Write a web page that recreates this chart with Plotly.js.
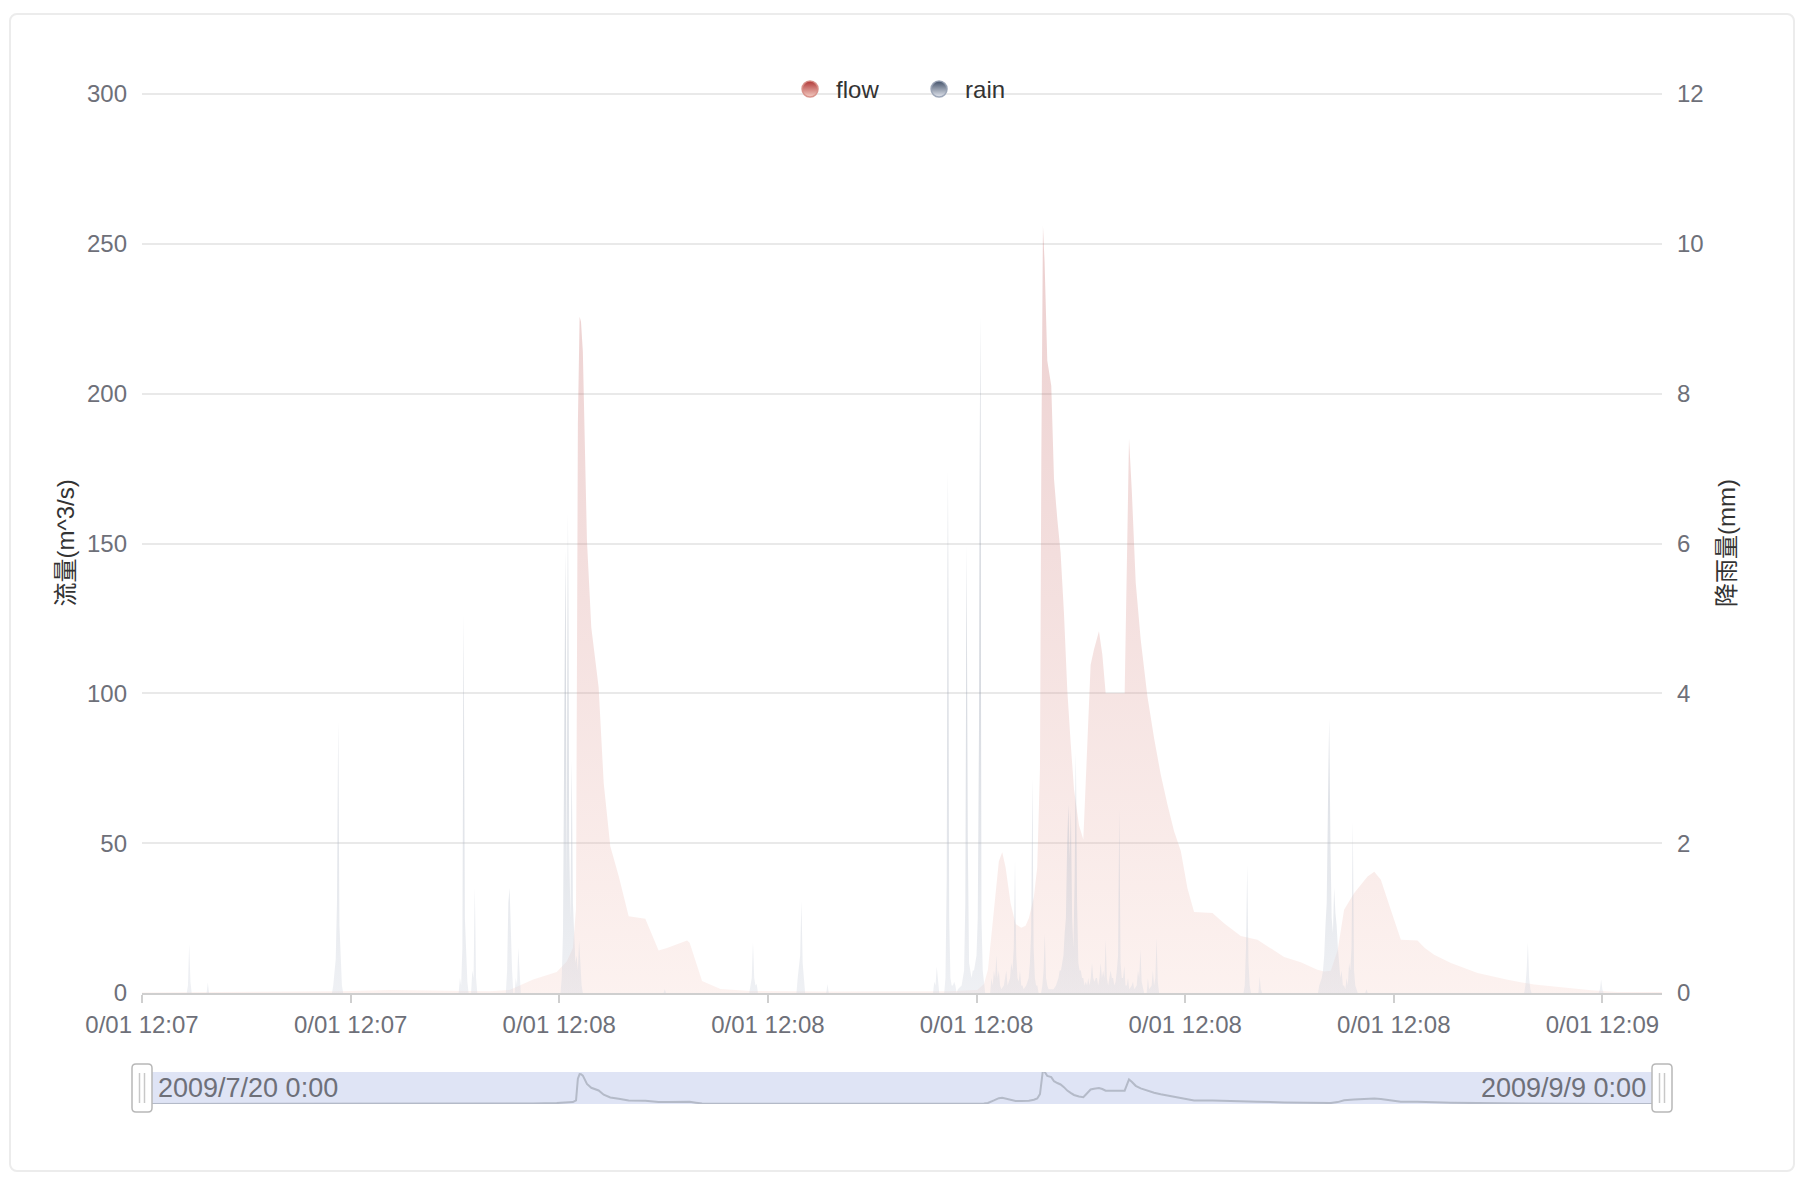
<!DOCTYPE html>
<html><head><meta charset="utf-8">
<script src="https://cdn.plot.ly/plotly-3.0.1.min.js"></script>
<style>
html,body{margin:0;padding:0;background:#fff;}
#frame{position:absolute;left:9px;top:13px;width:1786px;height:1159px;border:2px solid #ececec;border-radius:8px;box-sizing:border-box;}
#chart{position:absolute;left:0;top:0;width:1800px;height:1184px;}
</style></head><body>
<div id="frame"></div><div id="chart"></div>
<script>
// ---- data (hours since 2009/7/20 0:00) ----
const flowHours = [0,60,120,160,200,240,280,296,315,334,342,347,349.5,351,352.4,353.5,355,356.5,358.3,361.8,367.7,371.8,377.1,383.9,391.9,405.3,416,422.8,432,438.9,441,446,451,465.8,490,550,600,650,672.6,678,681.2,686,690,692.7,695.4,699.4,703.5,708,711.5,714.2,718.2,720.9,723.1,724.2,725.5,726.8,729,732.2,734.4,737.1,739.7,742.4,745.1,747.8,750.5,754.5,758,759.9,763.9,766.6,770.6,773.3,776,791.3,792.9,794.8,797,800.2,804.2,809.6,815,820.3,825.7,831.1,836.5,841.8,847.2,862,871.3,884.8,898.2,919.7,933.1,946.5,952,957.3,962.9,968,976,986.9,992.3,997.6,1005.6,1013.7,1027.1,1033,1040.5,1054,1075.5,1099.7,1121,1148,1167,1188,1224];
const flowValues = [0.2,0.3,0.4,0.6,1.0,0.7,0.6,1.0,4.5,7,10.5,15,28,190,225.7,224,214,185,151,122,102,70,49,39,25.6,24.8,14.2,15,16.5,17.5,16.8,10,4,1.3,0.7,0.5,0.5,0.6,1,3,7.8,26.7,44,47,42,30,23,21.8,22.4,25,32,42,75,178,256,244,211,202.6,171.5,158,147,127,101,83.6,68,56,51.2,69.8,109.5,114.6,120.7,113,100,100,144,185,168,137,118,99,85,73,63,54,47.4,35,27,26.7,23.3,19,17.8,12,10.3,7.8,7.2,7.4,14.4,27.8,33.3,38.9,40.5,37.8,27.8,17.8,17.5,15,12.8,10,6.7,4.4,2.8,1.7,0.9,0.3,0.3];

const rainHours = [
  0,36,37,38,39,40, 52,53,54,
  153,154,155,156,157,158,159,160,161,162,
  255,256,257,258,259,260,261,262,263,265,266,267,268,269,270,
  293,294,295,296,297,298,299,300,301,302,303,304,305,
  337,338,339,340,341,342,343,344,345,346,347,348,349,350,351,352,353,354,355,
  420,421,422,
  489,490,491,492,493,494,495,496,
  527,528,529,530,531,532,533,534, 551,552,553,
  637,638,639,640,641,642,646,647,648,649,650,651,652,653,654,655,656,657,660,
  662,663,664,665,666,667,668,669,670,671,672,673,674,675,676,677,678,679,
  683,684,685,686,687,688,689,690,691,692,694,696,697,699,700,701,702,703,704,705,706,707,708,709,710,712,714,715,716,717,718,719,720,721,722,
  724,725,726,727,728,729,730,732,734,736,738,739,740,741,742,743,744,745,746,747,748,749,750,751,752,753,754,755,756,757,758,759,760,
  761,762,763,764,765,766,767,768,769,770,771,772,773,774,775,776,777,778,779,780,781,782,783,784,785,786,787,788,789,790,
  791,792,793,794,795,797,798,799,801,802,803,804,805,806,807,809,810,811,813,814,815,816,817,818,819,
  887,888,889,890,891,892,893,899,900,901,902,
  947,948,949,950,951,952,953,954,955,956,957,958,959,960,961,962,963,964,965,966,967,968,969,970,971,972,973,974,975,976,977,978,979,
  985,986,987,
  1113,1114,1115,1116,1117,1118,1119,
  1173,1174,1175,1176,1177,1224];
const rainMM = [
  0,0,0.1,0.65,0.15,0, 0,0.14,0,
  0,0.1,0.3,0.45,1.2,3.62,0.9,0.4,0.1,0,
  0,0.2,0.1,0.6,5.05,1.0,0.4,0.15,0,0,0.3,0.2,1.4,0.2,0,
  0,0.3,1.2,1.4,0.8,0.3,0,0,0.2,0.1,0.6,0.2,0,
  0,0.2,0.8,3.0,5.9,1.5,6.4,2.0,1.0,3.1,1.2,0.8,0.4,0.5,0.3,0.7,0.3,0.1,0,
  0,0.05,0,
  0,0.1,0.2,0.67,0.2,0.1,0.12,0,
  0,0.2,0.35,0.5,1.22,0.4,0.2,0, 0,0.12,0,
  0,0.15,0.1,0.35,0.1,0,0,0.2,1.5,6.97,1.0,0.2,0.1,0.1,0.15,0.1,0,0.05,0.1,
  0.3,1.2,5.97,2.0,0.4,0.3,0.2,0.3,0.3,0.4,0.5,1.0,3.5,9.03,1.0,0.3,0.1,0,
  0,0.2,0.1,0.3,0.2,0.5,0.2,0.3,0.1,0.05,0.1,0.3,0.1,0.2,0.4,0.3,0.6,1.76,0.5,0.2,0.15,0.3,0.1,0.1,0.05,0.1,0.2,0.4,0.8,2.86,0.6,0.2,0.1,0.1,0,
  0,0.1,0.3,0.79,0.2,0.1,0.05,0.05,0.05,0.1,0.2,0.3,0.3,0.4,0.5,0.8,1.0,2.0,2.52,1.8,2.45,1.0,0.6,1.5,3.2,1.2,0.4,0.3,0.3,0.2,0.2,0.1,0.15,
  0.1,0.2,0.1,0.2,0.4,0.2,0.15,0.2,0.2,0.1,0.2,0.4,0.2,0.3,0.2,0.71,0.2,0.1,0.2,0.3,0.2,0.2,0.1,0.15,0.3,0.5,2.45,0.4,0.2,0.2,
  0.36,0.1,0.1,0.2,0.05,0.1,0.15,0.05,0.1,0.3,0.2,0.58,0.15,0.05,0,0,0.2,0.05,0.1,0.3,0.1,0.2,0.73,0.15,0,
  0,0.1,0.6,1.71,0.4,0.1,0,0,0.22,0.05,0,
  0,0.1,0.15,0.2,0.3,0.5,0.9,1.2,2.5,3.66,2.0,1.0,0.8,1.4,1.07,0.9,0.6,0.4,0.2,0.3,0.1,0.1,0.05,0.2,0.1,0.4,0.3,0.6,2.28,0.3,0.1,0.05,0,
  0,0.05,0,
  0,0.1,0.3,0.67,0.2,0.05,0,
  0,0.05,0.18,0.05,0,0];

const seriesNames = ['flow','rain'];
const tickHours = [0,168,336,504,672,840,1008,1176];
const tickLabels = ['0/01 12:07','0/01 12:07','0/01 12:08','0/01 12:08','0/01 12:08','0/01 12:08','0/01 12:08','0/01 12:09'];
const flowAxisTitle = '流量(m^3/s)';
const rainAxisTitle = '降雨量(mm)';
const sliderStartLabel = '2009/7/20 0:00';
const sliderEndLabel = '2009/9/9 0:00';
const totalHours = 1224;

// ---- chart ----
const FONT = 'Liberation Sans, Arial, Noto Sans CJK SC, sans-serif';
const LABEL = '#6e7079';

const traces = [
  {type:'scatter', mode:'lines', x:flowHours, y:flowValues, xaxis:'x', yaxis:'y',
   line:{width:0, color:'rgba(0,0,0,0)'}, fill:'tozeroy',
   fillgradient:{type:'vertical', colorscale:[[0,'rgba(244,200,190,0.24)'],[1,'rgba(176,56,56,0.24)']]},
   showlegend:false, hoverinfo:'skip'},
  {type:'scatter', mode:'lines', x:rainHours, y:rainMM, xaxis:'x', yaxis:'y2',
   line:{width:0, color:'rgba(0,0,0,0)'}, fill:'tozeroy',
   fillgradient:{type:'vertical', colorscale:[[0,'rgba(210,215,225,0.36)'],[1,'rgba(70,85,110,0.36)']]},
   showlegend:false, hoverinfo:'skip'},
  {type:'scatter', mode:'lines', x:flowHours, y:flowValues, xaxis:'x2', yaxis:'y3',
   line:{width:2, color:'#b4bac8'}, showlegend:false, hoverinfo:'skip'},
  {type:'scatter', mode:'markers', x:[null], y:[null], name:seriesNames[0],
   marker:{symbol:'circle', size:20, color:'rgb(176,56,56)', gradient:{type:'vertical', color:'rgb(244,204,194)'},
           line:{width:1.5, color:'rgba(214,140,132,0.9)'}}},
  {type:'scatter', mode:'markers', x:[null], y:[null], name:seriesNames[1],
   marker:{symbol:'circle', size:20, color:'rgb(68,82,106)', gradient:{type:'vertical', color:'rgb(226,230,238)'},
           line:{width:1.5, color:'rgba(150,160,178,0.9)'}}}
];

const bandTop = 0.03065, bandMid = 0.01533;
function handle(xa){
  return [
    {type:'path', xref:'paper', yref:'paper', xsizemode:'pixel', ysizemode:'pixel', xanchor:xa, yanchor:bandMid,
     path:'M-10,-20 Q-10,-24 -6,-24 L6,-24 Q10,-24 10,-20 L10,20 Q10,24 6,24 L-6,24 Q-10,24 -10,20 Z',
     fillcolor:'#ffffff', line:{color:'#b8b8b8', width:1.5}, layer:'above'},
    {type:'line', xref:'paper', yref:'paper', xsizemode:'pixel', ysizemode:'pixel', xanchor:xa, yanchor:bandMid,
     x0:-2.5, x1:-2.5, y0:-15, y1:15, line:{color:'#c8c8c8', width:1.5}, layer:'above'},
    {type:'line', xref:'paper', yref:'paper', xsizemode:'pixel', ysizemode:'pixel', xanchor:xa, yanchor:bandMid,
     x0:2.5, x1:2.5, y0:-15, y1:15, line:{color:'#c8c8c8', width:1.5}, layer:'above'}
  ];
}

const layout = {
  width:1800, height:1184,
  margin:{l:142, r:138, t:60, b:80, pad:0},
  paper_bgcolor:'rgba(0,0,0,0)', plot_bgcolor:'rgba(0,0,0,0)',
  font:{family:FONT, size:24, color:LABEL},
  hovermode:false,
  showlegend:true,
  legend:{orientation:'h', x:0.4224, xanchor:'left', y:0.9718, yanchor:'middle',
          font:{family:FONT, size:24, color:'#333'}, itemwidth:42, entrywidth:72, entrywidthmode:'pixels',
          bgcolor:'rgba(0,0,0,0)', itemclick:false, itemdoubleclick:false},
  xaxis:{domain:[0,1], anchor:'y', range:[0,totalHours], tickmode:'array', tickvals:tickHours, ticktext:tickLabels,
         ticks:'outside', ticklen:8, tickwidth:2, tickcolor:'#cfcfcf', showline:true, linecolor:'#cfcfcf', linewidth:2,
         showgrid:false, zeroline:false, ticklabelstandoff:1, tickfont:{family:FONT, size:24, color:LABEL}, fixedrange:true},
  yaxis:{domain:[0.10632,0.96858], anchor:'x', range:[0,300.4], tick0:0, dtick:50, showgrid:true, gridcolor:'#e9e9e9', gridwidth:2,
         zeroline:false, showline:false, ticks:'', ticklabelstandoff:14, tickfont:{family:FONT, size:24, color:LABEL},
         title:{text:flowAxisTitle, font:{family:FONT, size:24, color:'#333'}, standoff:5}, fixedrange:true},
  yaxis2:{overlaying:'y', side:'right', anchor:'x', range:[0,12.016], tick0:0, dtick:2, showgrid:false, zeroline:false,
          showline:false, ticks:'', ticklabelstandoff:14, tickfont:{family:FONT, size:24, color:LABEL},
          title:{text:rainAxisTitle, font:{family:FONT, size:24, color:'#333'}, standoff:15}, fixedrange:true},
  xaxis2:{domain:[0,1], anchor:'y3', range:[0,totalHours], visible:false, fixedrange:true},
  yaxis3:{domain:[0,bandTop], anchor:'x2', range:[0,241], visible:false, fixedrange:true},
  shapes:[
    {type:'rect', xref:'paper', yref:'paper', x0:0, x1:1, y0:0, y1:bandTop, fillcolor:'#dfe4f5', line:{width:0}, layer:'below'}
  ].concat(handle(0), handle(1)),
  annotations:[
    {xref:'paper', yref:'paper', x:0.00934, y:bandMid, xanchor:'left', yanchor:'middle', showarrow:false,
     text:sliderStartLabel, font:{family:FONT, size:27, color:LABEL}},
    {xref:'paper', yref:'paper', x:0.9910, y:bandMid, xanchor:'right', yanchor:'middle', showarrow:false,
     text:sliderEndLabel, font:{family:FONT, size:27, color:LABEL}}
  ]
};

Plotly.newPlot('chart', traces, layout, {displayModeBar:false, staticPlot:false, responsive:false});
</script></body></html>
